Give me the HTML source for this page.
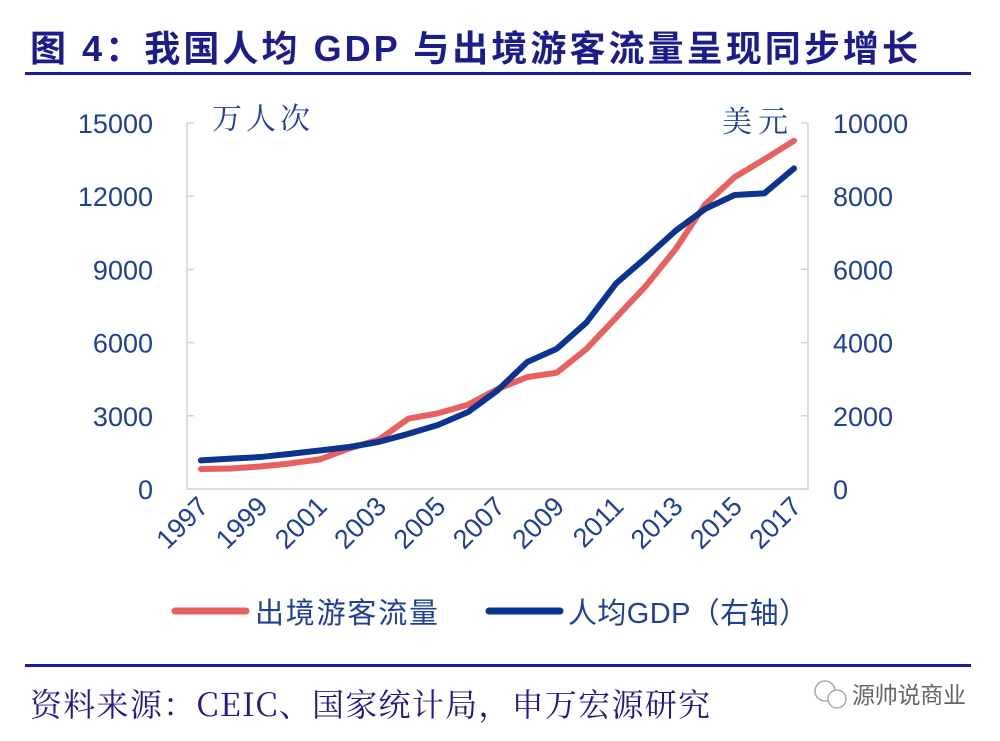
<!DOCTYPE html>
<html><head><meta charset="utf-8"><style>
body{margin:0;background:#fff;width:1000px;height:741px;overflow:hidden;font-family:"Liberation Sans","Noto Sans CJK SC",sans-serif;}
svg{display:block}
</style></head><body>
<svg id="chart" width="1000" height="741">
<text x="30" y="61" font-size="36" font-weight="bold" fill="#1c1c8c" textLength="888" lengthAdjust="spacing" font-family="Liberation Sans, Noto Sans CJK SC, sans-serif">图 4：我国人均 GDP 与出境游客流量呈现同步增长</text>
<rect x="25" y="72" width="946" height="3" fill="#1c1c9c"/>
<text x="212" y="129" font-size="30" fill="#1f3f99" textLength="98" lengthAdjust="spacing" font-family="Noto Serif CJK SC, serif">万人次</text>
<text x="722" y="132" font-size="30" fill="#1f3f99" textLength="66" lengthAdjust="spacing" font-family="Noto Serif CJK SC, serif">美元</text>
<g stroke="#d4d4d4" stroke-width="1.5" fill="none">
<polyline points="187,123 187,489 808,489 808,123"/>
</g>
<g id="ticks"></g>
<g id="lines"></g>
<g>
<line x1="175" y1="611" x2="246" y2="611" stroke="#e8605f" stroke-width="7" stroke-linecap="round"/>
<text x="255" y="623" font-size="29" fill="#1f3f99" textLength="183" lengthAdjust="spacing">出境游客流量</text>
<line x1="489" y1="611" x2="560" y2="611" stroke="#0a3490" stroke-width="7" stroke-linecap="round"/>
<text x="568" y="623" font-size="29" fill="#1f3f99" textLength="240" lengthAdjust="spacing">人均GDP（右轴）</text>
</g>
<rect x="25" y="664" width="946" height="3" fill="#1c1c9c"/>
<text x="30" y="716" font-size="32" fill="#1c1c8c" textLength="680" lengthAdjust="spacing" font-family="Noto Serif CJK SC, serif">资料来源：CEIC、国家统计局，申万宏源研究</text>
<g>
<circle cx="825" cy="691" r="10" fill="none" stroke="#aaa" stroke-width="1.5"/>
<circle cx="837" cy="699" r="9" fill="#fff" stroke="#aaa" stroke-width="1.5"/>
<text x="852" y="703" font-size="23" fill="#666" textLength="114" lengthAdjust="spacing">源帅说商业</text>
</g>
</svg>
<script>
const years=[1997,1998,1999,2000,2001,2002,2003,2004,2005,2006,2007,2008,2009,2010,2011,2012,2013,2014,2015,2016,2017];
const tourists=[820,840,923,1047,1213,1660,2022,2885,3103,3452,4095,4584,4766,5739,7025,8318,9819,11659,12786,13513,14273];
const gdp=[781,829,873,959,1053,1148,1288,1508,1753,2099,2694,3468,3832,4550,5618,6317,7051,7651,8033,8079,8759];
const leftTicks=[0,3000,6000,9000,12000,15000];
const rightTicks=[0,2000,4000,6000,8000,10000];
const NS='http://www.w3.org/2000/svg';
const x0=201,x1=794,yb=489,yt=123;
const xs=i=>x0+(x1-x0)*i/(years.length-1);
const yl=v=>yb-(yb-yt)*v/15000;
const yr=v=>yb-(yb-yt)*v/10000;
const tg=document.getElementById('ticks'),lg=document.getElementById('lines');
function mk(tag,attrs){const e=document.createElementNS(NS,tag);for(const k in attrs)e.setAttribute(k,attrs[k]);return e;}
leftTicks.forEach(v=>{
 const t=mk('text',{x:153,y:yl(v)+10,'font-size':27,fill:'#1f3f99','text-anchor':'end'});
 t.textContent=v;
 
 
 tg.appendChild(t);
 const m=mk('line',{x1:187,x2:194,y1:yl(v),y2:yl(v),stroke:'#d4d4d4','stroke-width':1.5});
 
 
 tg.appendChild(m);
});
rightTicks.forEach(v=>{
 const t=mk('text',{x:833,y:yr(v)+10,'font-size':27,fill:'#1f3f99'});
 t.textContent=v;
 
 
 tg.appendChild(t);
 const m=mk('line',{x1:801,x2:808,y1:yr(v),y2:yr(v),stroke:'#d4d4d4','stroke-width':1.5});
 
 
 tg.appendChild(m);
});
years.forEach((y,i)=>{
 if(i%2)return;
 const x=xs(i)+9,yy=508;
 const t=mk('text',{x:x,y:yy,'font-size':27,fill:'#1f3f99','text-anchor':'end',transform:`rotate(-45 ${x} ${yy})`});
 t.textContent=y;
 
 
 tg.appendChild(t);
});
const p1=mk('polyline',{points:tourists.map((v,i)=>xs(i)+','+yl(v)).join(' '),fill:'none',stroke:'#e8605f','stroke-width':6,'stroke-linejoin':'round','stroke-linecap':'round'});


lg.appendChild(p1);
const p2=mk('polyline',{points:gdp.map((v,i)=>xs(i)+','+yr(v)).join(' '),fill:'none',stroke:'#0a3490','stroke-width':6,'stroke-linejoin':'round','stroke-linecap':'round'});


lg.appendChild(p2);
</script>
</body></html>
